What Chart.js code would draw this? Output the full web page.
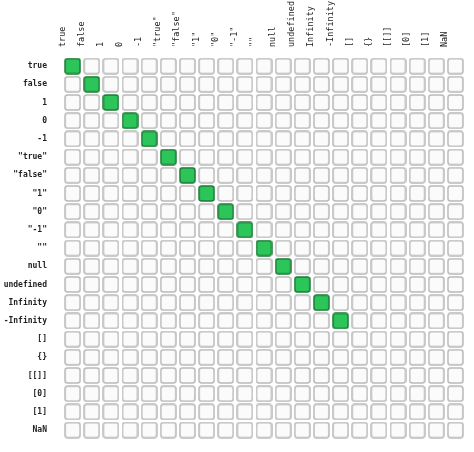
<!DOCTYPE html>
<html><head><meta charset="utf-8">
<script src="https://cdn.jsdelivr.net/npm/chart.js@4"></script>
<style>html,body{margin:0;padding:0;background:#fff}#w{width:474px;height:452px}</style>
</head><body><div id="w"><canvas id="c"></canvas></div>
<script>
const categories = ['true','false','1','0','-1','"true"','"false"','"1"','"0"','"-1"','""','null','undefined','Infinity','-Infinity','[]','{}','[[]]','[0]','[1]','NaN'];
const selfEqual = ['true','false','1','0','-1','"true"','"false"','"1"','"0"','"-1"','""','null','undefined','Infinity','-Infinity'];

function cell(fill, stroke, lw) {
  const s = 17, c = document.createElement('canvas');
  c.width = s; c.height = s;
  const g = c.getContext('2d');
  g.fillStyle = fill; g.strokeStyle = stroke; g.lineWidth = lw;
  g.beginPath(); g.roundRect(1, 1, s - 2, s - 2, 2.5); g.fill(); g.stroke();
  return c;
}
const grayCell = cell('#fbfbfb', '#b9b9b9', 1.5);
const greenCell = cell('#2cc55a', '#1c7a35', 1.5);

const offPts = [], onPts = [];
categories.forEach(r => categories.forEach(cc => {
  (r === cc && selfEqual.includes(r) ? onPts : offPts).push({x: cc, y: r});
}));

new Chart(document.getElementById('c'), {
  type: 'scatter',
  data: { datasets: [
    { data: offPts, pointStyle: grayCell, pointRadius: 8 },
    { data: onPts, pointStyle: greenCell, pointRadius: 8 }
  ]},
  options: {
    animation: false, responsive: true, maintainAspectRatio: false,
    layout: { padding: { right: 5, bottom: -9 } },
    plugins: { legend: { display: false }, tooltip: { enabled: false } },
    scales: {
      x: { type: 'category', labels: categories, position: 'top', offset: true,
        grid: { display: false }, border: { display: false },
        afterFit: s => { s.height = 57; },
        ticks: { autoSkip: false, minRotation: 90, maxRotation: 90, padding: 2,
          color: '#222', font: { family: 'DejaVu Sans Mono', size: 8.5 } } },
      y: { type: 'category', labels: categories, offset: true,
        grid: { display: false }, border: { display: false },
        afterFit: s => { s.width = 63; },
        ticks: { autoSkip: false, padding: 8, color: '#222',
          font: { family: 'DejaVu Sans Mono', size: 8, weight: 'bold' } } }
    }
  }
});
</script></body></html>
